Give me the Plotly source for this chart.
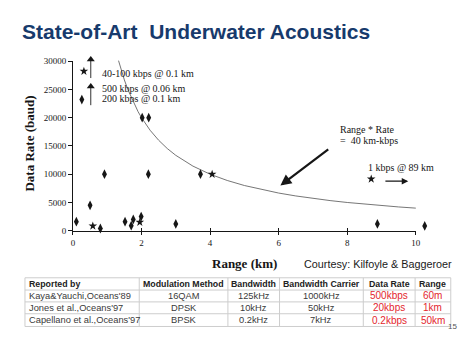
import plotly.graph_objects as go

# ---------------- data ----------------
diamond_range = [0.1, 0.26, 0.5, 0.8, 0.92, 1.52, 1.7, 1.76, 1.99, 2.02, 2.21, 2.2, 3.0, 3.72, 8.88, 10.26]
diamond_rate = [1600, 23200, 4500, 400, 10000, 1600, 900, 2000, 2500, 20000, 20000, 10000, 1200, 10000, 1200, 860]

star_range = [0.32, 0.58, 1.95, 4.06, 8.7]
star_rate = [28200, 850, 1500, 10000, 9150]

tri_range = [0.52, 0.52]
tri_rate = [30300, 25500]
stem_bottom = [27000, 22200]

RANGE_RATE_PRODUCT = 40  # km-kbps
curve_range = [1.33, 1.4, 1.5, 1.6, 1.75, 1.9, 2.0, 2.25, 2.5, 2.75, 3.0, 3.5, 4.0, 4.5,
               5.0, 5.5, 6.0, 6.5, 7.0, 7.5, 8.0, 8.5, 9.0, 9.5, 10.0]

x_ticks = [0, 2, 4, 6, 8, 10]
x_tick_labels = ["0", "2", "4", "6", "8", "10"]
y_ticks = [0, 5000, 10000, 15000, 20000, 25000, 30000]
y_tick_labels = ["0", "5000", "10000", "15000", "20000", "25000", "30000"]

table_header = ["Reported by", "Modulation Method", "Bandwidth", "Bandwidth Carrier", "Data Rate", "Range"]
col_reported = ["Kaya&Yauchi,Oceans'89", "Jones et al.,Oceans'97", "Capellano et al.,Oceans'97"]
col_modulation = ["16QAM", "DPSK", "BPSK"]
col_bandwidth = ["125kHz", "10kHz", "0.2kHz"]
col_carrier = ["1000kHz", "50kHz", "7kHz"]
col_datarate = ["500kbps", "20kbps", "0.2kbps"]
col_range = ["60m", "1km", "50km"]

# ---------------- figure ----------------
W, H = 474, 355
SERIF = "Liberation Serif, Times New Roman, serif"
NARROW = "Liberation Sans Narrow, Arial Narrow, Liberation Sans, Arial, sans-serif"
SANS = "Liberation Sans, Arial, sans-serif"
INK = "#161616"

def px(x):
    return x / W
def py(y):
    return (H - y) / H

# visible axis box (pixels)
AX_L, AX_R, AX_B, AX_T = 72.0, 420.0, 232.3, 57.7
X_MAX, Y_MAX = 10.0, 30000.0
ppx = (AX_R - AX_L) / X_MAX
ppy = (AX_B - AX_T) / Y_MAX
# data axes: same scale, slightly larger box so marks outside the frame still show
D_L, D_R, D_B, D_T = AX_L, 444.0, 240.0, 48.0

curve_rate = [RANGE_RATE_PRODUCT * 1000 / r for r in curve_range]

fig = go.Figure()

fig.add_trace(go.Scatter(x=curve_range, y=curve_rate, mode="lines",
                         line=dict(color="#666666", width=0.9), hoverinfo="skip"))

for r, top, bot in zip(tri_range, tri_rate, stem_bottom):
    fig.add_trace(go.Scatter(x=[r, r], y=[top, bot], mode="lines",
                             line=dict(color="#333333", width=1), cliponaxis=False))

fig.add_trace(go.Scatter(x=diamond_range, y=diamond_rate, mode="markers", cliponaxis=False,
                         marker=dict(symbol="diamond-tall", size=7, color=INK)))
fig.add_trace(go.Scatter(x=star_range, y=star_rate, mode="markers", cliponaxis=False,
                         marker=dict(symbol="star", size=6.5, color=INK)))
fig.add_trace(go.Scatter(x=tri_range, y=tri_rate, mode="markers", cliponaxis=False,
                         marker=dict(symbol="triangle-up", size=7, color=INK)))

# dummy traces to activate the visible frame axes
fig.add_trace(go.Scatter(x=[None], y=[None], xaxis="x2", yaxis="y2", hoverinfo="skip"))
fig.add_trace(go.Scatter(x=[None], y=[None], xaxis="x3", yaxis="y2", hoverinfo="skip"))

hidden = dict(visible=False, showgrid=False, zeroline=False)
fig.update_layout(
    width=W, height=H, margin=dict(l=0, r=0, t=0, b=0),
    paper_bgcolor="white", plot_bgcolor="rgba(0,0,0,0)", showlegend=False,
    xaxis=dict(domain=[px(D_L), px(D_R)], range=[0, (D_R - AX_L) / ppx], anchor="y", **hidden),
    yaxis=dict(domain=[py(D_B), py(D_T)], range=[-(D_B - AX_B) / ppy, (AX_B - D_T) / ppy],
               anchor="x", **hidden),
    xaxis2=dict(domain=[px(AX_L), px(AX_R)], range=[0, X_MAX], anchor="y2",
                tickvals=x_ticks, ticktext=x_tick_labels, ticks="outside", ticklen=3, tickcolor=INK,
                tickfont=dict(family=SERIF, size=9, color=INK),
                showgrid=False, zeroline=False, showline=True, linecolor=INK, linewidth=1),
    xaxis3=dict(domain=[px(AX_L), px(AX_R)], range=[0, X_MAX], anchor="y2",
                tickvals=x_ticks, ticks="inside", ticklen=3, tickcolor=INK, showticklabels=False,
                showgrid=False, zeroline=False, showline=False),
    yaxis2=dict(domain=[py(AX_B), py(AX_T)], range=[0, Y_MAX], anchor="x2",
                tickvals=y_ticks, ticktext=y_tick_labels, ticks="outside", ticklen=4, tickcolor=INK,
                tickfont=dict(family=SERIF, size=9, color=INK),
                showgrid=False, zeroline=False, showline=True, linecolor=INK, linewidth=1),
)

ann = []
shapes = []
def txt(x, y, s, size=10, xref="x", yref="y", font=SERIF, color=INK, xanchor="left", **kw):
    ann.append(dict(x=x, y=y, xref=xref, yref=yref, text=s, showarrow=False, xanchor=xanchor,
                    yanchor="middle", font=dict(family=font, size=size, color=color), **kw))

txt(0.80, 27770, "40-100 kbps @ 0.1 km")
txt(0.80, 25130, "500 kbps @ 0.06 km")
txt(0.80, 23410, "200 kbps @ 0.1 km")
txt(7.72, 17870, "Range * Rate")
txt(7.72, 15980, "=  40 km-kbps")
txt(8.56, 11270, "1 kbps @ 89 km")

# arrows
ann.append(dict(x=6.05, y=8000, ax=7.49, ay=14600, xref="x", yref="y", axref="x", ayref="y",
                text="", showarrow=True, arrowhead=2, arrowsize=1, arrowwidth=2.2, arrowcolor=INK))
ann.append(dict(x=9.78, y=8760, ax=9.07, ay=8760, xref="x", yref="y", axref="x", ayref="y",
                text="", showarrow=True, arrowhead=2, arrowsize=1, arrowwidth=1.3, arrowcolor=INK))

# titles
txt(px(18), py(27.5), "<b>State-of-Art  Underwater Acoustics</b>", size=21,
    xref="paper", yref="paper", font=NARROW, color="#173a6c")
txt(px(28), py(143), "<b>Data Rate (baud)</b>", size=13, xref="paper", yref="paper",
    xanchor="center", textangle=-90)
txt(px(246.5), py(266), "<b>Range (km)</b>", size=13, xref="paper", yref="paper",
    xanchor="center")
txt(px(305), py(266), "Courtesy: Kilfoyle & Baggeroer", size=10.8, xref="paper", yref="paper",
    font=NARROW, color="#1a1a1a")

# ---------------- table (built from the column lists) ----------------
red = "#e3262e"
gray = "#3a3a3a"
col_edges = [23.3, 139.3, 229.3, 281.7, 366.7, 419.3, 455.5]   # px layout
row_edges = [280.7, 293.3, 305.5, 317.7, 330.8]                # px layout
columns = [col_reported, col_modulation, col_bandwidth, col_carrier, col_datarate, col_range]
col_colors = [gray, gray, gray, gray, red, red]
line_col = "#cdcdcd"

for xe in col_edges:
    shapes.append(dict(type="line", xref="paper", yref="paper", x0=px(xe), x1=px(xe),
                       y0=py(row_edges[0]), y1=py(row_edges[-1]), line=dict(color=line_col, width=1)))
for ye in row_edges:
    shapes.append(dict(type="line", xref="paper", yref="paper", x0=px(col_edges[0]), x1=px(col_edges[-1]),
                       y0=py(ye), y1=py(ye), line=dict(color=line_col, width=1)))

for ci, head in enumerate(table_header):
    left = ci == 0
    xa = col_edges[ci] + 2.5 if left else (col_edges[ci] + col_edges[ci + 1]) / 2
    yc = (row_edges[0] + row_edges[1]) / 2
    ann.append(dict(x=px(xa), y=py(yc), xref="paper", yref="paper", text="<b>%s</b>" % head,
                    showarrow=False, xanchor="left" if left else "center", yanchor="middle",
                    font=dict(family=SANS, size=8.8, color="#222222")))
    for ri, val in enumerate(columns[ci]):
        yc = (row_edges[ri + 1] + row_edges[ri + 2]) / 2
        ann.append(dict(x=px(xa), y=py(yc), xref="paper", yref="paper", text=val,
                        showarrow=False, xanchor="left" if left else "center", yanchor="middle",
                        font=dict(family=SANS, size=9.3 if ci < 4 else 10, color=col_colors[ci])))

txt(px(451), py(331), "15", size=8, xref="paper", yref="paper", font=SANS, color="#555555")

fig.update_layout(annotations=ann, shapes=shapes)
fig.write_html("out.html")
